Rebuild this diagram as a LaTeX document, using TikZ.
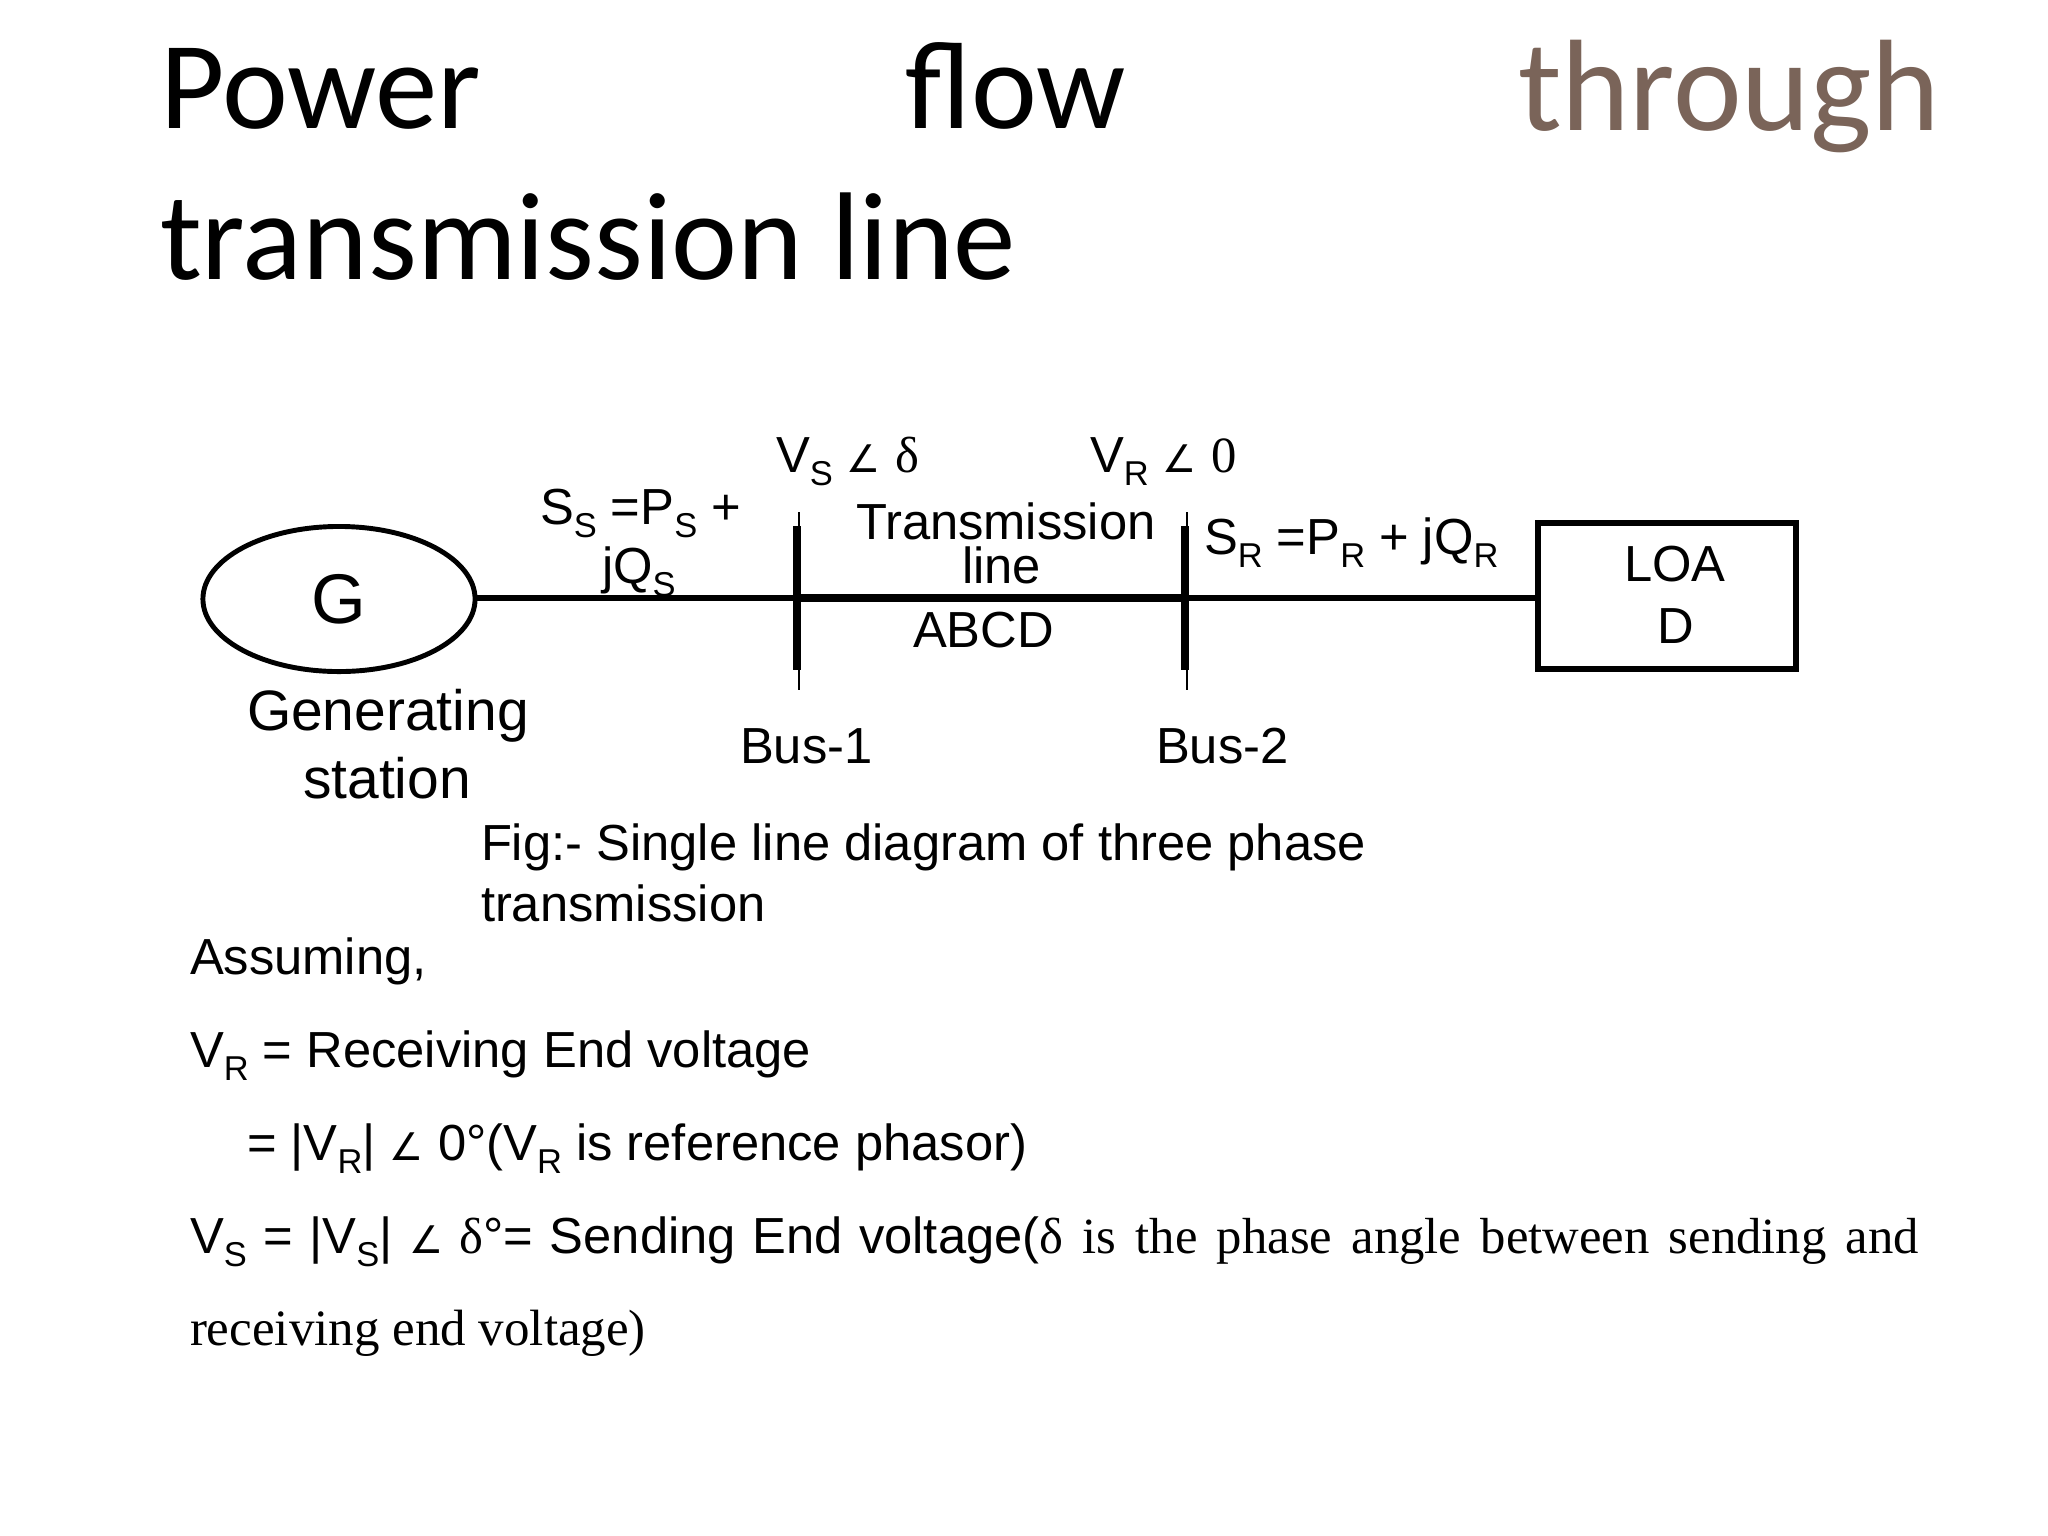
\documentclass[tikz,border=0pt]{standalone}
\usepackage{fontspec}
\usepackage{graphicx}
\usetikzlibrary{shapes.geometric, positioning}
\setmainfont{Liberation Sans}
\newfontfamily\titlefont{Carlito}
\newfontfamily\seriffont{Liberation Serif}
\newfontfamily\symbolfont{DejaVu Sans}
\definecolor{titlebrown}{HTML}{7A6459}
\newcommand{\lowsub}[1]{\raisebox{-0.26em}{\scalebox{0.68}{#1}}}
\newcommand{\angmark}{{\symbolfont\scalebox{0.75}{∠}}}
\newcommand{\deltamark}{{\seriffont δ}}
\tikzset{
  txt/.style={anchor=base west, inner sep=0pt, outer sep=0pt, font=\fontsize{14.42pt}{17pt}\selectfont},
  bigtxt/.style={txt, font=\fontsize{16.2pt}{19pt}\selectfont},
  headtxt/.style={anchor=base west, inner sep=0pt, outer sep=0pt, font=\titlefont\fontsize{35.5pt}{40pt}\selectfont},
  feeder/.style={line width=1.7pt},
  busthick/.style={line width=2pt},
  busthin/.style={line width=0.75pt}
}
\begin{document}
\begin{tikzpicture}[x=0.01cm, y=-0.01cm]
    \useasboundingbox (0,0) rectangle (2048,1536);
    % Title
    \node[headtxt] (power) at (160,128) {Power};
    \node[headtxt] (flow) at (905,128) {flow};
    \node[headtxt, text=titlebrown, font=\titlefont\fontsize{37pt}{40pt}\selectfont] (through) at (1518,130) {through};
    \node[headtxt] (transline) at (160,279) {transmission line};
    % Generator and load
    \node[draw, ellipse, line width=1.4pt, minimum width=2.72cm, minimum height=1.45cm, inner sep=0pt, outer sep=0pt,
          font=\fontsize{20pt}{22pt}\selectfont] (gen) at (339,599) {G};
    \node[draw, line width=1.7pt, minimum width=2.58cm, minimum height=1.45cm, outer sep=0pt] (load) at (1667,596) {};
    % Buses
    \coordinate (bus1top) at (799,512);
    \coordinate (bus1bot) at (799,690);
    \coordinate (bus2top) at (1187,512);
    \coordinate (bus2bot) at (1187,690);
    \coordinate (bus1a) at (797,526);
    \coordinate (bus1b) at (797,670);
    \coordinate (bus2a) at (1185,526);
    \coordinate (bus2b) at (1185,670);
    \coordinate (bus1mid) at (797,598);
    \coordinate (bus2mid) at (1185,598);
    \draw[busthin] (bus1top) -- (bus1bot);
    \draw[busthin] (bus2top) -- (bus2bot);
    \draw[busthick] (bus1a) -- (bus1b);
    \draw[busthick] (bus2a) -- (bus2b);
    % Lines
    \draw[feeder] (gen.east |- bus1mid) -- (bus1mid);
    \draw[line width=2.3pt] (bus1mid) -- (bus2mid);
    \draw[feeder] (bus2mid) -- (load.west |- bus2mid);
    % Diagram labels
    \node[txt] (vs) at (776,472) {V\lowsub{S} \angmark\ \deltamark};
    \node[txt] (vr) at (1090,472) {V\lowsub{R} \angmark\ {\seriffont 0}};
    \node[txt] (ss) at (540,524) {S\lowsub{S} =P\lowsub{S} +};
    \node[txt] (jqs) at (602,583) {jQ\lowsub{S}};
    \node[txt] (tl) at (856,539) {Transmission};
    \node[txt] (tlb) at (962,583) {line};
    \node[txt] (abcd) at (913,647) {ABCD};
    \node[txt] (sr) at (1204,554) {S\lowsub{R} =P\lowsub{R} + jQ\lowsub{R}};
    \node[txt] (loada) at (1624,581) {LOA};
    \node[txt] (loadb) at (1657,643) {D};
    \node[bigtxt] (gena) at (247,730) {Generating};
    \node[bigtxt] (genb) at (303,798) {station};
    \node[txt] (bus1) at (740,763) {Bus-1};
    \node[txt] (bus2) at (1156,763) {Bus-2};
    \node[txt] (figa) at (481,860) {Fig:- Single line diagram of three phase};
    \node[txt] (figb) at (481,921) {transmission};
    % Text below
    \node[txt] (assume) at (190,974) {Assuming,};
    \node[txt] (linea) at (190,1067) {V\lowsub{R} = Receiving End voltage};
    \node[txt] (lineb) at (247,1160) {= |V\lowsub{R}| \angmark\ 0°(V\lowsub{R} is reference phasor)};
    \node[txt] (linec) at (190,1253) {\hbox to 17.28cm{\spaceskip=0.325em V\lowsub{S} = |V\lowsub{S}| \angmark\ \deltamark°= Sending End voltage({\seriffont\spaceskip=0.25em plus 1fil δ is the phase angle between sending and}}};
    \node[txt, font=\seriffont\fontsize{14.5pt}{17pt}\selectfont] (lined) at (190,1345) {receiving end voltage)};
\end{tikzpicture}
\end{document}
